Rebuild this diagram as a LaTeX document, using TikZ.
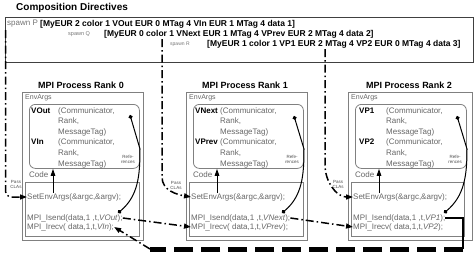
\documentclass[tikz,border=0pt]{standalone}
\usepackage{fontspec}
\setmainfont{Liberation Sans}
\usetikzlibrary{arrows.meta}

\begin{document}
\begin{tikzpicture}[x=1pt, y=-1pt,
    heading/.style={font=\fontsize{10}{12}\selectfont\bfseries, anchor=west, inner sep=0pt},
    dirbox/.style={draw=black!75, line width=1.1pt, anchor=north west, inner sep=0pt},
    spawnlbl/.style={text=black!55, anchor=west, inner sep=0pt},
    spawntxt/.style={font=\fontsize{8.5}{9}\selectfont\bfseries, anchor=west, inner sep=0pt},
    rank/.style={font=\fontsize{9}{11}\selectfont\bfseries, inner sep=0pt},
    envbox/.style={draw=black!50, line width=0.8pt, anchor=north west, inner sep=0pt, minimum height=148pt},
    declbox/.style={draw=black!50, line width=0.8pt, rounded corners=6pt, anchor=north west, inner sep=0pt, minimum width=110pt, minimum height=64pt},
    codebox/.style={draw=black!50, line width=0.8pt, anchor=north west, inner sep=0pt, minimum width=114pt, minimum height=54pt},
    code/.style={font=\fontsize{8}{10}\selectfont, text=black!60, anchor=west, inner sep=0pt},
    decl/.style={font=\fontsize{8}{10.6}\selectfont, text=black!60, anchor=north west, inner sep=0pt},
    note/.style={font=\fontsize{4.5}{5}\selectfont, text=black!70, align=center, inner sep=0pt},
    pass/.style={line width=1.5pt, dash pattern=on 8pt off 3pt on 1.5pt off 3pt, -{Triangle[length=7pt, width=5pt]}},
    bus/.style={line width=5pt, dash pattern=on 19pt off 8pt},
    refline/.style={line width=1pt, {Circle[length=4pt]}-{Circle[length=4pt]}},
    setarrow/.style={line width=1pt, -{Triangle[length=7pt, width=4.5pt]}}
  ]
  \useasboundingbox (0,0) rectangle (474,252);

  \node[heading] (title) at (16,8) {Composition Directives};
  \node[dirbox, minimum width=468pt, minimum height=45pt] (dirs) at (4.5,17) {};
  \node[spawnlbl, font=\fontsize{8}{9}\selectfont] (spawnP) at (7,24) {spawn P};
  \node[spawntxt] (dirP) at (40,24) {[MyEUR 2 color 1 VOut EUR 0 MTag 4 VIn EUR 1 MTag 4 data 1]};
  \node[spawnlbl, font=\fontsize{5.5}{6}\selectfont] (spawnQ) at (68,34) {spawn Q};
  \node[spawntxt] (dirQ) at (104,34) {[MyEUR 0 color 1 VNext EUR 1 MTag 4 VPrev EUR 2 MTag 4 data 2]};
  \node[spawnlbl, font=\fontsize{5}{6}\selectfont] (spawnR) at (170,44) {spawn R};
  \node[spawntxt] (dirR) at (207,44) {[MyEUR 1 color 1 VP1 EUR 2 MTag 4 VP2 EUR 0 MTag 4 data 3]};
  \coordinate (fromP) at (5.5,30);
  \coordinate (fromQ) at (162,39);
  \coordinate (fromR) at (325,49);

  \node[rank] (rank0) at (81,85) {MPI Process Rank 0};
  \node[envbox, minimum width=121pt] (env0) at (22,92) {};
  \node[code, font=\fontsize{7}{8}\selectfont] (envlbl0) at (25,98) {EnvArgs};
  \node[declbox] (declbox0) at (29,104) {};
  \node[decl] (decl0) at (31,105.5) {\begin{tabular}{@{}p{27pt}@{}l@{}}
      \textcolor{black}{\textbf{VOut}} & (Communicator,\\ & Rank,\\ & MessageTag)\\
      \textcolor{black}{\textbf{VIn}} & (Communicator,\\ & Rank,\\ & MessageTag)
    \end{tabular}};
  \node[code] (codelbl0) at (29,175) {Code};
  \node[codebox] (codebox0) at (25,182) {};
  \node[code] (set0) at (27,197) {SetEnvArgs(\&argc,\&argv);};
  \node[code] (send0) at (27,218) {MPI\_Isend(data,1 ,t,\textit{VOut});};
  \node[code] (recv0) at (27,227) {MPI\_Irecv( data,1,t,\textit{VIn});};
  \node[note] (refs0) at (128,159) {Refe-\\rences};
  \node[note] (pass0) at (16,184) {Pass\\CLAs};
  \coordinate (refA0) at (130,115);
  \coordinate (refB0) at (140,149);
  \coordinate (refC0) at (118,213);

  \node[rank] (rank1) at (245,85) {MPI Process Rank 1};
  \node[envbox, minimum width=121pt] (env1) at (186,92) {};
  \node[code, font=\fontsize{7}{8}\selectfont] (envlbl1) at (189,98) {EnvArgs};
  \node[declbox] (declbox1) at (193,104) {};
  \node[decl] (decl1) at (195,105.5) {\begin{tabular}{@{}p{25pt}@{}l@{}}
      \textcolor{black}{\textbf{VNext}}\hspace{-3pt} & (Communicator,\\ & Rank,\\ & MessageTag)\\
      \textcolor{black}{\textbf{VPrev}} & (Communicator,\\ & Rank,\\ & MessageTag)
    \end{tabular}};
  \node[code] (codelbl1) at (193,175) {Code};
  \node[codebox] (codebox1) at (189,182) {};
  \node[code] (set1) at (191,197) {SetEnvArgs(\&argc,\&argv);};
  \node[code] (send1) at (191,218) {MPI\_Isend(data,1 ,t,\textit{VNext});};
  \node[code] (recv1) at (191,227) {MPI\_Irecv( data,1,t,\textit{VPrev});};
  \node[note] (refs1) at (292,159) {Refe-\\rences};
  \node[note] (pass1) at (176,185) {Pass\\CLAs};
  \coordinate (refA1) at (294,116);
  \coordinate (refB1) at (304,149);
  \coordinate (refC1) at (282,213);

  \node[rank] (rank2) at (409,85) {MPI Process Rank 2};
  \node[envbox, minimum width=124pt] (env2) at (348,92) {};
  \node[code, font=\fontsize{7}{8}\selectfont] (envlbl2) at (351,98) {EnvArgs};
  \node[declbox, minimum width=111pt] (declbox2) at (355,104) {};
  \node[decl] (decl2) at (359,105.5) {\begin{tabular}{@{}p{27pt}@{}l@{}}
      \textcolor{black}{\textbf{VP1}}\hspace{-8pt} & (Communicator,\\ & Rank,\\ & MessageTag)\\
      \textcolor{black}{\textbf{VP2}} & (Communicator,\\ & Rank,\\ & MessageTag)
    \end{tabular}};
  \node[code] (codelbl2) at (355,175) {Code};
  \node[codebox, minimum width=113pt] (codebox2) at (351,182) {};
  \node[code] (set2) at (353,197) {SetEnvArgs(\&argc,\&argv);};
  \node[code] (send2) at (353,218) {MPI\_Isend(data,1 ,t,\textit{VP1});};
  \node[code] (recv2) at (353,227) {MPI\_Irecv( data,1,t,\textit{VP2});};
  \node[note] (refs2) at (455,159) {Refe-\\rences};
  \node[note] (pass2) at (338,184) {Pass\\CLAs};
  \coordinate (refA2) at (457,116);
  \coordinate (refB2) at (467,149);
  \coordinate (refC2) at (444,213);

  \coordinate (busR) at (463,249);
  \coordinate (busL) at (150,249);

  \draw[refline] (refA0) -- (refB0) to[out=-90, in=40] (refC0);
  \draw[refline] (refA1) -- (refB1) to[out=-90, in=40] (refC1);
  \draw[refline] (refA2) -- (refB2) to[out=-90, in=40] (refC2);
  \draw[setarrow] ([xshift=26pt]set0.north west) -- ([xshift=24pt]declbox0.south west);
  \draw[setarrow] ([xshift=26pt]set1.north west) -- ([xshift=24pt]declbox1.south west);
  \draw[setarrow] ([xshift=26pt]set2.north west) -- ([xshift=24pt]declbox2.south west);

  \draw[pass, rounded corners=6pt] (fromP) |- (set0.west);
  \draw[pass] (fromQ) -- ++(0,138) to[out=-90, in=170] (set1.west);
  \draw[pass] (fromR) -- ++(0,116) to[out=-90, in=180] (set2.west);

  \draw[pass] (send0.east) -- (recv1.west);
  \draw[pass] (send1.east) -- (recv2.west);
  \draw[line width=1.2pt] (send2.east) -| (busR);
  \draw[bus] (busR) -- (busL);
  \draw[pass] (busL) -- (recv0.east);
\end{tikzpicture}
\end{document}
